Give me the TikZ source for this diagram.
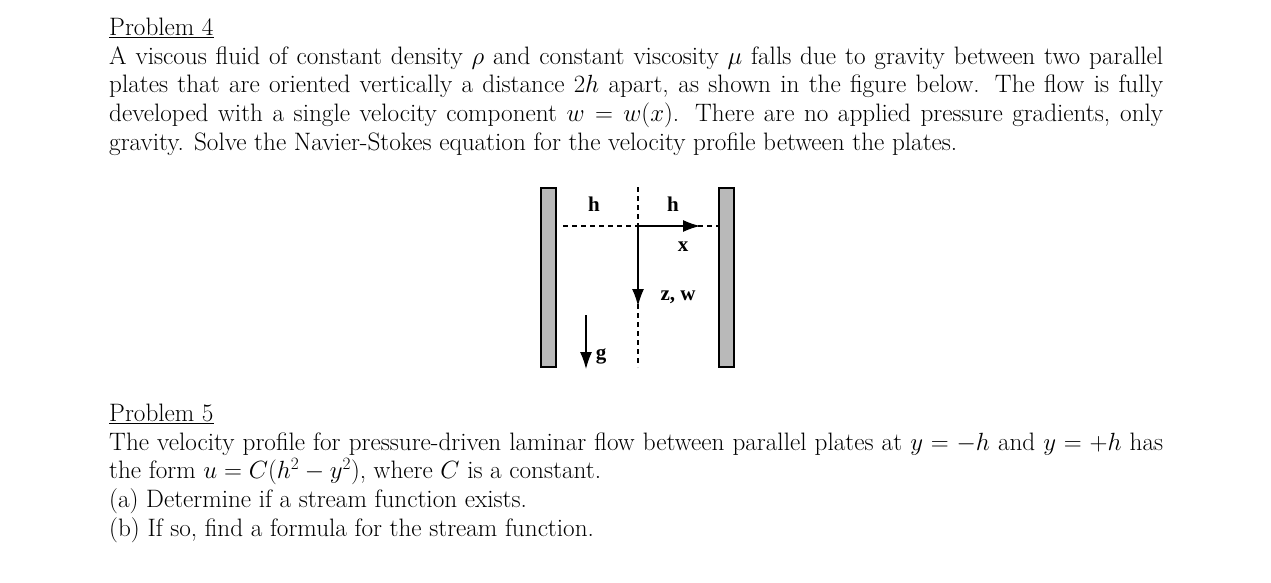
\documentclass[tikz,border=0pt]{standalone}
\usetikzlibrary{arrows.meta}
\usepackage{fontspec}
\newfontfamily\tms{Liberation Serif}
\begin{document}
\begin{tikzpicture}[x=1pt,y=-1pt,
  para/.style={anchor=north west,inner sep=0pt,text width=1054pt,align=justify,font=\fontsize{25.2}{28.6}\selectfont},
  plate/.style={draw=black,line width=1.2pt,fill=gray!55},
  lab/.style={font=\tms\bfseries\fontsize{21}{21}\selectfont,inner sep=0pt},
  dsh/.style={line width=1.5pt,dash pattern=on 5pt off 4pt},
  arr/.style={line width=1.3pt,-{Latex[length=17pt,width=12pt]}}]
\useasboundingbox (0,0) rectangle (1271,583);
\node[para] (p4) at (109,18) {\underline{Problem 4}\\
A viscous fluid of constant density $\rho$ and constant viscosity $\mu$ falls due to gravity between two parallel\linebreak plates that are oriented vertically a distance $2h$ apart, as shown in the figure below. The flow is fully\linebreak developed with a single velocity component $w=w(x)$. There are no applied pressure gradients, only\linebreak gravity. Solve the Navier-Stokes equation for the velocity profile between the plates.\par};
\node[para] (p5) at (109,404) {\underline{Problem 5}\\
The velocity profile for pressure-driven laminar flow between parallel plates at $y=-h$ and $y=+h$ has\linebreak the form $u=C(h^2-y^2)$, where $C$ is a constant.\\
(a) Determine if a stream function exists.\\
(b) If so, find a formula for the stream function.\par};
\draw[plate] (541,188) rectangle (556,367);
\draw[plate] (719,188) rectangle (734,367);
\coordinate (ct) at (638,187);
\coordinate (cb) at (638,367);
\coordinate (o) at (638,226);
\coordinate (hl) at (563,226);
\coordinate (hr) at (719,226);
\draw[dsh] (ct) -- (cb);
\draw[dsh] (hl) -- (hr);
\draw[arr] (o) -- (700,226);
\draw[arr] (o) -- (638,306);
\coordinate (g1) at (586,315);
\coordinate (g2) at (586,369);
\draw[arr] (g1) -- (g2);
\node[lab] (h1) at (594,204) {h};
\node[lab] (h2) at (673,204) {h};
\node[lab] (lx) at (683,247) {x};
\node[lab] (lz) at (678,297) {z, w};
\node[lab] (lg) at (601,356) {g};
\end{tikzpicture}
\end{document}
